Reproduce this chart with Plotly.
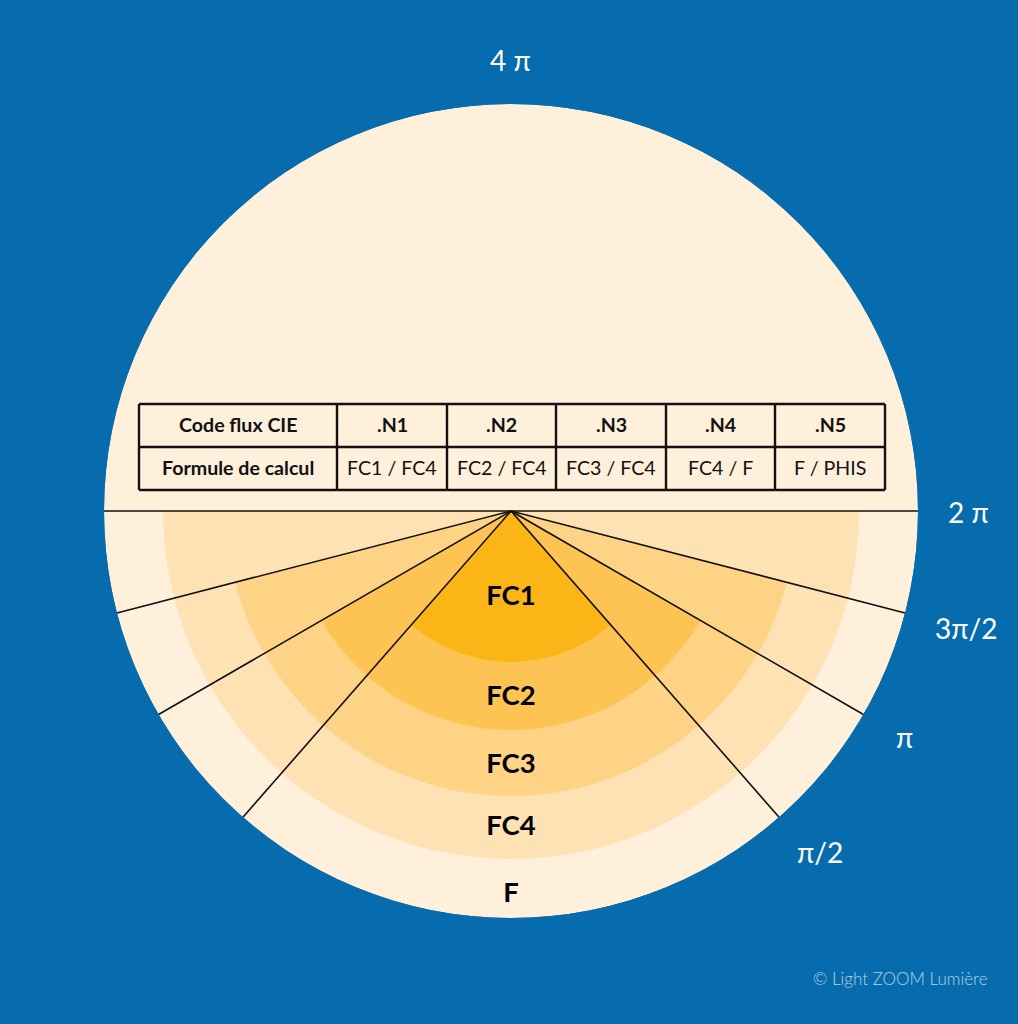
import plotly.graph_objects as go

# zones of the solid angle diagram, outermost first
zones = ['F', 'FC4', 'FC3', 'FC2', 'FC1']
zone_radius = [407, 348, 285, 219, 151]
zone_width = [360, 180, 151, 120, 82.8]
zone_colors = ['#FFF0DC', '#FEE2B3', '#FED385', '#FDC353', '#FBB516']
label_radius = [384, 317, 255, 187, 87]

# separators, degrees either side of straight down
line_half_angle = [90, 75.5, 60, 41.2]

table_head = ['Code flux CIE', '.N1', '.N2', '.N3', '.N4', '.N5']
table_row = ['Formule de calcul', 'FC1 / FC4', 'FC2 / FC4', 'FC3 / FC4', 'FC4 / F', 'F / PHIS']
table_col_edges = [139, 337, 447, 556, 666, 775, 885]
table_row_edges = [404, 447, 490]

outer_labels = ['4 π', '2 π', '3π/2', 'π', 'π/2']
outer_x = [510, 968, 966, 904, 820]
outer_y = [60, 512, 628, 737, 852]

W = 1018
H = 1024
FONT = 'Lato'
INK = '#111111'


def px_x(x):
    return x / W


def px_y(y):
    return 1 - y / H


fig = go.Figure()

for zone, radius, width, color in zip(zones, zone_radius, zone_width, zone_colors):
    fig.add_trace(go.Barpolar(r=[radius], theta=[270], width=[width], marker_color=color,
                              marker_line_width=0, name=zone))

for half in line_half_angle:
    fig.add_trace(go.Scatterpolar(r=[407, 0, 407], theta=[270 - half, 270, 270 + half], mode='lines',
                                  line=dict(color=INK, width=1.6)))

fig.add_trace(go.Scatterpolar(r=label_radius, theta=[270] * len(zones), mode='text', text=zones,
                              textposition='middle center',
                              textfont=dict(family=FONT, size=27.5, color='#000000', weight=700)))

# table grid and its texts
for y in table_row_edges:
    fig.add_shape(type='line', xref='paper', yref='paper', x0=px_x(table_col_edges[0]), x1=px_x(table_col_edges[-1]),
                  y0=px_y(y), y1=px_y(y), line=dict(color=INK, width=2.4))
for x in table_col_edges:
    fig.add_shape(type='line', xref='paper', yref='paper', x0=px_x(x), x1=px_x(x),
                  y0=px_y(table_row_edges[0]), y1=px_y(table_row_edges[-1]), line=dict(color=INK, width=2.4))

for row, values in enumerate([table_head, table_row]):
    for col, text in enumerate(values):
        bold = row == 0 or col == 0
        fig.add_annotation(text=text, xref='paper', yref='paper',
                           x=px_x((table_col_edges[col] + table_col_edges[col + 1]) / 2),
                           y=px_y((table_row_edges[row] + table_row_edges[row + 1]) / 2 - 1),
                           xanchor='center', yanchor='middle', showarrow=False,
                           font=dict(family=FONT, size=19.6, color=INK, weight=700 if bold else 400))

for text, x, y in zip(outer_labels, outer_x, outer_y):
    fig.add_annotation(text=text, x=px_x(x), y=px_y(y), xref='paper', yref='paper', showarrow=False,
                       xanchor='center', yanchor='middle',
                       font=dict(family=FONT, size=28, color='#FFFFFF'))

fig.add_annotation(text='© Light ZOOM Lumière', x=px_x(900), y=px_y(978), xref='paper', yref='paper',
                   showarrow=False, xanchor='center', yanchor='middle',
                   font=dict(family=FONT, size=17, color='#B5D2E8', weight=300))

fig.update_layout(
    width=W, height=H, margin=dict(l=0, r=0, t=0, b=0), paper_bgcolor='#076CAE', showlegend=False,
    polar=dict(
        domain=dict(x=[104 / W, 918 / W], y=[1 - 918 / H, 1 - 104 / H]),
        bgcolor='rgba(0,0,0,0)', barmode='overlay',
        radialaxis=dict(range=[0, 407], visible=False),
        angularaxis=dict(visible=False, direction='counterclockwise', rotation=0),
    ),
)

fig.write_html('out.html', config=dict(displayModeBar=False), post_script="document.body.style.margin='0';")
